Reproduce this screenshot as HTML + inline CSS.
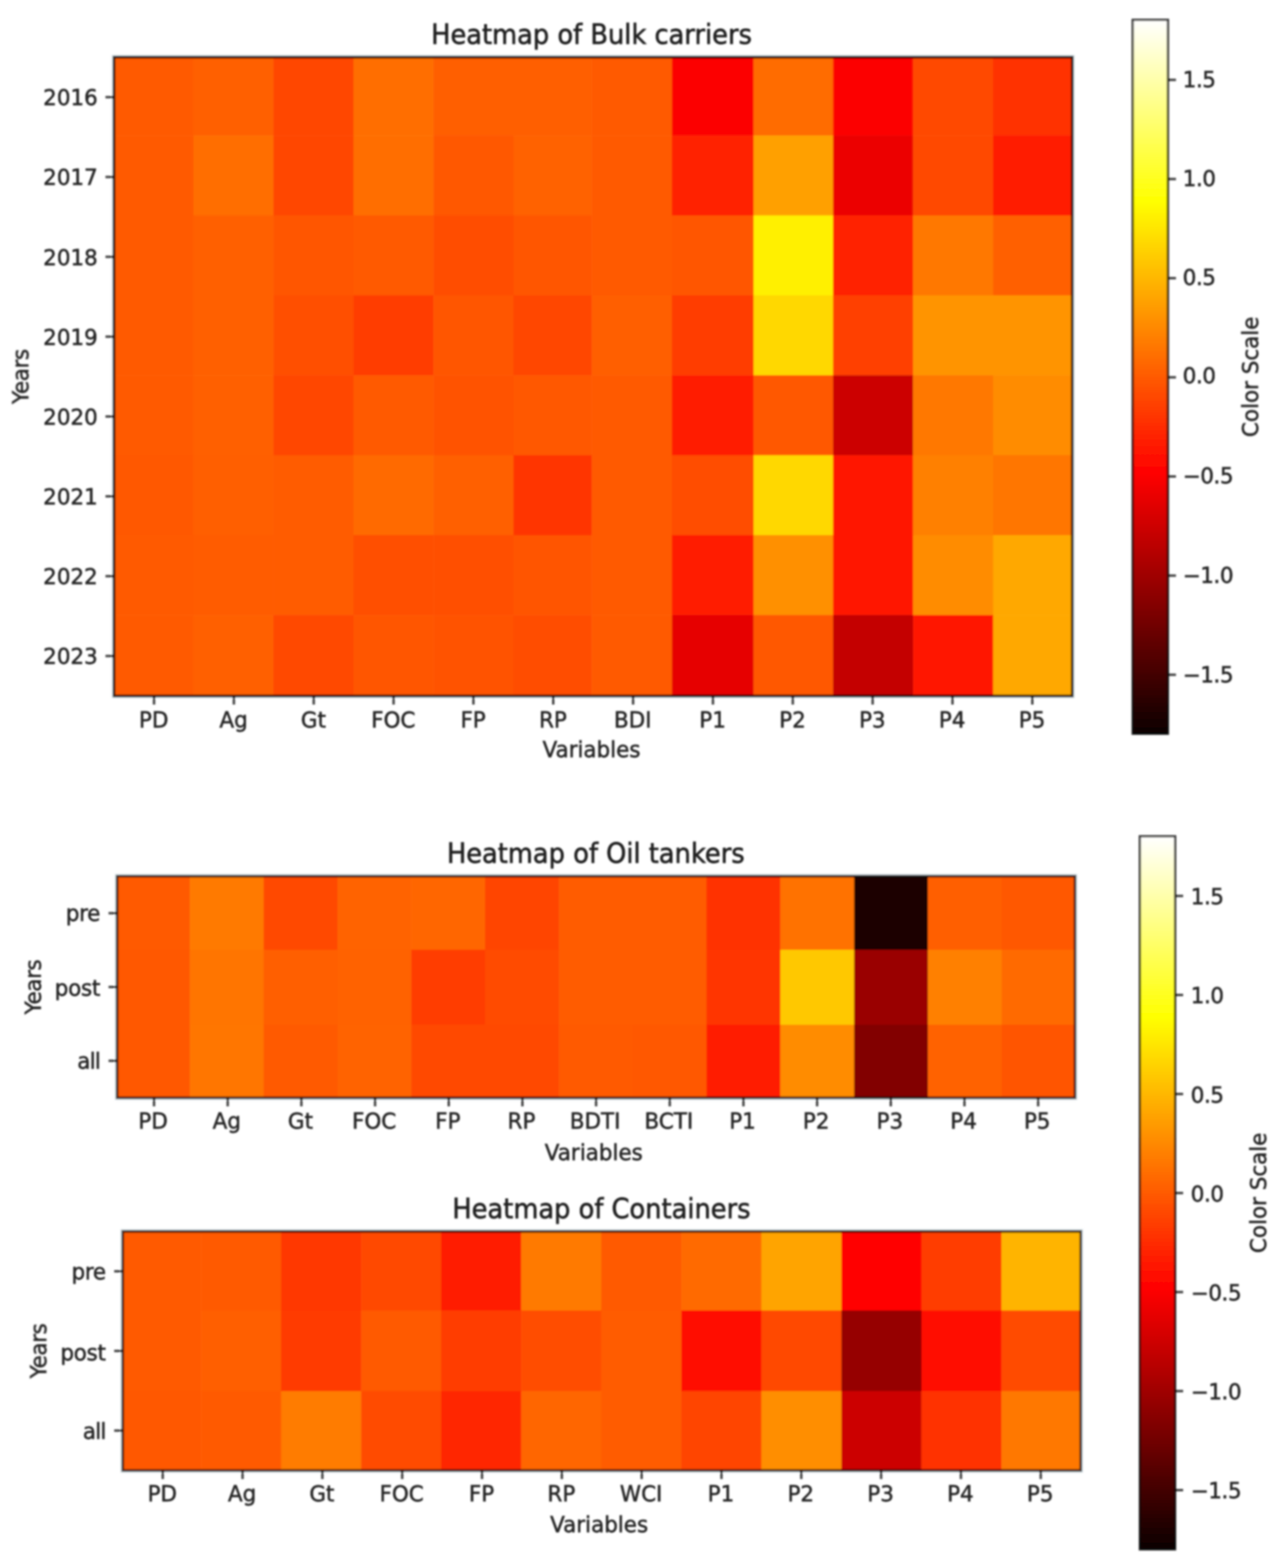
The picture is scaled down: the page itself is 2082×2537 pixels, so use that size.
<!DOCTYPE html>
<html lang="en">
<head>
<meta charset="utf-8">
<title>Heatmaps</title>
<style>
html,body{margin:0;padding:0;background:#fff;}
body{width:2082px;height:2537px;overflow:hidden;}
svg{display:block;}
.t{font-family:"DejaVu Sans","Liberation Sans",sans-serif;font-size:34.70px;fill:#000;stroke:#000;stroke-width:0.8px;opacity:0.86;}
.tt{font-family:"DejaVu Sans","Liberation Sans",sans-serif;font-size:41.60px;fill:#000;stroke:#000;stroke-width:0.9px;opacity:0.88;}
.ln{stroke:#000;stroke-width:4px;fill:none;opacity:0.72;}
.box{stroke:#000;stroke-width:4.40;fill:none;opacity:0.76;}
.halo{stroke:#c3d3dc;stroke-width:8px;fill:none;opacity:0.5;}
.cbox{stroke:#000;stroke-width:3.7px;fill:none;opacity:0.82;}
</style>
</head>
<body>
<svg width="2082" height="2537" viewBox="0 0 2082 2537" role="img" aria-label="Heatmaps of Bulk carriers, Oil tankers and Containers">
<defs>
<linearGradient id="hot" x1="0" y1="0" x2="0" y2="1"><stop offset="0.000000" stop-color="#ffffff"/><stop offset="0.253968" stop-color="#ffff00"/><stop offset="0.634921" stop-color="#ff0000"/><stop offset="1.000000" stop-color="#0b0000"/></linearGradient>
<filter id="soft" x="-2%" y="-2%" width="104%" height="104%"><feGaussianBlur stdDeviation="1.60"/></filter>
</defs>
<rect x="0" y="0" width="2082" height="2537" fill="#fff"/>
<g filter="url(#soft)">
<rect x="184.60" y="92.60" width="1550.00" height="1033.40" class="halo"/>
<clipPath id="clip-carriers"><rect x="184.60" y="92.60" width="1550.00" height="1033.40"/></clipPath>
<g clip-path="url(#clip-carriers)">
<rect x="182.30" y="90.30" width="131.17" height="129.52" fill="#FF5A00"/>
<rect x="312.87" y="90.30" width="130.07" height="129.52" fill="#FF6000"/>
<rect x="442.34" y="90.30" width="130.07" height="129.52" fill="#FF4600"/>
<rect x="571.81" y="90.30" width="130.07" height="129.52" fill="#FF6E00"/>
<rect x="701.28" y="90.30" width="130.07" height="129.52" fill="#FF5E00"/>
<rect x="830.75" y="90.30" width="127.07" height="129.52" fill="#FF5E00"/>
<rect x="957.22" y="90.30" width="130.27" height="129.52" fill="#FF5A00"/>
<rect x="1086.89" y="90.30" width="132.87" height="129.52" fill="#FC0000"/>
<rect x="1219.16" y="90.30" width="129.07" height="129.52" fill="#FF6C00"/>
<rect x="1347.63" y="90.30" width="130.07" height="129.52" fill="#FC0000"/>
<rect x="1477.10" y="90.30" width="130.07" height="129.52" fill="#FF4800"/>
<rect x="1606.57" y="90.30" width="130.33" height="129.52" fill="#FF3000"/>
<rect x="182.30" y="219.22" width="131.17" height="129.92" fill="#FF5A00"/>
<rect x="312.87" y="219.22" width="130.07" height="129.92" fill="#FF6E00"/>
<rect x="442.34" y="219.22" width="130.07" height="129.92" fill="#FF4600"/>
<rect x="571.81" y="219.22" width="130.07" height="129.92" fill="#FF6E00"/>
<rect x="701.28" y="219.22" width="130.07" height="129.92" fill="#FF5800"/>
<rect x="830.75" y="219.22" width="127.07" height="129.92" fill="#FF6200"/>
<rect x="957.22" y="219.22" width="130.27" height="129.92" fill="#FF5A00"/>
<rect x="1086.89" y="219.22" width="132.87" height="129.92" fill="#FF2000"/>
<rect x="1219.16" y="219.22" width="129.07" height="129.92" fill="#FFA000"/>
<rect x="1347.63" y="219.22" width="130.07" height="129.92" fill="#EC0000"/>
<rect x="1477.10" y="219.22" width="130.07" height="129.92" fill="#FF4800"/>
<rect x="1606.57" y="219.22" width="130.33" height="129.92" fill="#FF1C00"/>
<rect x="182.30" y="348.54" width="131.17" height="129.92" fill="#FF5A00"/>
<rect x="312.87" y="348.54" width="130.07" height="129.92" fill="#FF6000"/>
<rect x="442.34" y="348.54" width="130.07" height="129.92" fill="#FF5600"/>
<rect x="571.81" y="348.54" width="130.07" height="129.92" fill="#FF5A00"/>
<rect x="701.28" y="348.54" width="130.07" height="129.92" fill="#FF4E00"/>
<rect x="830.75" y="348.54" width="127.07" height="129.92" fill="#FF5600"/>
<rect x="957.22" y="348.54" width="130.27" height="129.92" fill="#FF5A00"/>
<rect x="1086.89" y="348.54" width="132.87" height="129.92" fill="#FF5600"/>
<rect x="1219.16" y="348.54" width="129.07" height="129.92" fill="#FFF000"/>
<rect x="1347.63" y="348.54" width="130.07" height="129.92" fill="#FF2400"/>
<rect x="1477.10" y="348.54" width="130.07" height="129.92" fill="#FF7800"/>
<rect x="1606.57" y="348.54" width="130.33" height="129.92" fill="#FF6000"/>
<rect x="182.30" y="477.86" width="131.17" height="129.92" fill="#FF5A00"/>
<rect x="312.87" y="477.86" width="130.07" height="129.92" fill="#FF6000"/>
<rect x="442.34" y="477.86" width="130.07" height="129.92" fill="#FF5000"/>
<rect x="571.81" y="477.86" width="130.07" height="129.92" fill="#FF3E00"/>
<rect x="701.28" y="477.86" width="130.07" height="129.92" fill="#FF5600"/>
<rect x="830.75" y="477.86" width="127.07" height="129.92" fill="#FF4600"/>
<rect x="957.22" y="477.86" width="130.27" height="129.92" fill="#FF5E00"/>
<rect x="1086.89" y="477.86" width="132.87" height="129.92" fill="#FF3E00"/>
<rect x="1219.16" y="477.86" width="129.07" height="129.92" fill="#FFD800"/>
<rect x="1347.63" y="477.86" width="130.07" height="129.92" fill="#FF4000"/>
<rect x="1477.10" y="477.86" width="130.07" height="129.92" fill="#FF9400"/>
<rect x="1606.57" y="477.86" width="130.33" height="129.92" fill="#FF9400"/>
<rect x="182.30" y="607.18" width="131.17" height="129.92" fill="#FF5A00"/>
<rect x="312.87" y="607.18" width="130.07" height="129.92" fill="#FF6000"/>
<rect x="442.34" y="607.18" width="130.07" height="129.92" fill="#FF4600"/>
<rect x="571.81" y="607.18" width="130.07" height="129.92" fill="#FF5A00"/>
<rect x="701.28" y="607.18" width="130.07" height="129.92" fill="#FF5200"/>
<rect x="830.75" y="607.18" width="127.07" height="129.92" fill="#FF5800"/>
<rect x="957.22" y="607.18" width="130.27" height="129.92" fill="#FF5A00"/>
<rect x="1086.89" y="607.18" width="132.87" height="129.92" fill="#FF1C00"/>
<rect x="1219.16" y="607.18" width="129.07" height="129.92" fill="#FF5800"/>
<rect x="1347.63" y="607.18" width="130.07" height="129.92" fill="#CC0000"/>
<rect x="1477.10" y="607.18" width="130.07" height="129.92" fill="#FF7800"/>
<rect x="1606.57" y="607.18" width="130.33" height="129.92" fill="#FF8C00"/>
<rect x="182.30" y="736.50" width="131.17" height="129.92" fill="#FF5800"/>
<rect x="312.87" y="736.50" width="130.07" height="129.92" fill="#FF5E00"/>
<rect x="442.34" y="736.50" width="130.07" height="129.92" fill="#FF5C00"/>
<rect x="571.81" y="736.50" width="130.07" height="129.92" fill="#FF6A00"/>
<rect x="701.28" y="736.50" width="130.07" height="129.92" fill="#FF6000"/>
<rect x="830.75" y="736.50" width="127.07" height="129.92" fill="#FF3400"/>
<rect x="957.22" y="736.50" width="130.27" height="129.92" fill="#FF5A00"/>
<rect x="1086.89" y="736.50" width="132.87" height="129.92" fill="#FF4E00"/>
<rect x="1219.16" y="736.50" width="129.07" height="129.92" fill="#FFD800"/>
<rect x="1347.63" y="736.50" width="130.07" height="129.92" fill="#FF1400"/>
<rect x="1477.10" y="736.50" width="130.07" height="129.92" fill="#FF8000"/>
<rect x="1606.57" y="736.50" width="130.33" height="129.92" fill="#FF7600"/>
<rect x="182.30" y="865.82" width="131.17" height="129.92" fill="#FF5A00"/>
<rect x="312.87" y="865.82" width="130.07" height="129.92" fill="#FF5C00"/>
<rect x="442.34" y="865.82" width="130.07" height="129.92" fill="#FF5C00"/>
<rect x="571.81" y="865.82" width="130.07" height="129.92" fill="#FF5000"/>
<rect x="701.28" y="865.82" width="130.07" height="129.92" fill="#FF5000"/>
<rect x="830.75" y="865.82" width="127.07" height="129.92" fill="#FF5400"/>
<rect x="957.22" y="865.82" width="130.27" height="129.92" fill="#FF5A00"/>
<rect x="1086.89" y="865.82" width="132.87" height="129.92" fill="#FF1C00"/>
<rect x="1219.16" y="865.82" width="129.07" height="129.92" fill="#FF9000"/>
<rect x="1347.63" y="865.82" width="130.07" height="129.92" fill="#FF1400"/>
<rect x="1477.10" y="865.82" width="130.07" height="129.92" fill="#FF8C00"/>
<rect x="1606.57" y="865.82" width="130.33" height="129.92" fill="#FFA800"/>
<rect x="182.30" y="995.14" width="131.17" height="133.16" fill="#FF5A00"/>
<rect x="312.87" y="995.14" width="130.07" height="133.16" fill="#FF6000"/>
<rect x="442.34" y="995.14" width="130.07" height="133.16" fill="#FF4800"/>
<rect x="571.81" y="995.14" width="130.07" height="133.16" fill="#FF5600"/>
<rect x="701.28" y="995.14" width="130.07" height="133.16" fill="#FF5200"/>
<rect x="830.75" y="995.14" width="127.07" height="133.16" fill="#FF4E00"/>
<rect x="957.22" y="995.14" width="130.27" height="133.16" fill="#FF5A00"/>
<rect x="1086.89" y="995.14" width="132.87" height="133.16" fill="#E60000"/>
<rect x="1219.16" y="995.14" width="129.07" height="133.16" fill="#FF5800"/>
<rect x="1347.63" y="995.14" width="130.07" height="133.16" fill="#C40000"/>
<rect x="1477.10" y="995.14" width="130.07" height="133.16" fill="#FF1400"/>
<rect x="1606.57" y="995.14" width="130.33" height="133.16" fill="#FFA800"/>
</g>
<line x1="249.18" y1="1126.00" x2="249.18" y2="1140.00" class="ln"/>
<text x="248.68" y="1176.50" class="t" text-anchor="middle">PD</text>
<line x1="378.35" y1="1126.00" x2="378.35" y2="1140.00" class="ln"/>
<text x="377.85" y="1176.50" class="t" text-anchor="middle">Ag</text>
<line x1="507.52" y1="1126.00" x2="507.52" y2="1140.00" class="ln"/>
<text x="507.02" y="1176.50" class="t" text-anchor="middle">Gt</text>
<line x1="636.68" y1="1126.00" x2="636.68" y2="1140.00" class="ln"/>
<text x="636.18" y="1176.50" class="t" text-anchor="middle">FOC</text>
<line x1="765.85" y1="1126.00" x2="765.85" y2="1140.00" class="ln"/>
<text x="765.35" y="1176.50" class="t" text-anchor="middle">FP</text>
<line x1="895.02" y1="1126.00" x2="895.02" y2="1140.00" class="ln"/>
<text x="894.52" y="1176.50" class="t" text-anchor="middle">RP</text>
<line x1="1024.18" y1="1126.00" x2="1024.18" y2="1140.00" class="ln"/>
<text x="1023.68" y="1176.50" class="t" text-anchor="middle">BDI</text>
<line x1="1153.35" y1="1126.00" x2="1153.35" y2="1140.00" class="ln"/>
<text x="1152.85" y="1176.50" class="t" text-anchor="middle">P1</text>
<line x1="1282.52" y1="1126.00" x2="1282.52" y2="1140.00" class="ln"/>
<text x="1282.02" y="1176.50" class="t" text-anchor="middle">P2</text>
<line x1="1411.68" y1="1126.00" x2="1411.68" y2="1140.00" class="ln"/>
<text x="1411.18" y="1176.50" class="t" text-anchor="middle">P3</text>
<line x1="1540.85" y1="1126.00" x2="1540.85" y2="1140.00" class="ln"/>
<text x="1540.35" y="1176.50" class="t" text-anchor="middle">P4</text>
<line x1="1670.02" y1="1126.00" x2="1670.02" y2="1140.00" class="ln"/>
<text x="1669.52" y="1176.50" class="t" text-anchor="middle">P5</text>
<line x1="170.60" y1="157.19" x2="184.60" y2="157.19" class="ln"/>
<text x="158.10" y="170.19" class="t" text-anchor="end" style="letter-spacing:0.0px">2016</text>
<line x1="170.60" y1="286.36" x2="184.60" y2="286.36" class="ln"/>
<text x="158.10" y="299.36" class="t" text-anchor="end" style="letter-spacing:0.0px">2017</text>
<line x1="170.60" y1="415.54" x2="184.60" y2="415.54" class="ln"/>
<text x="158.10" y="428.54" class="t" text-anchor="end" style="letter-spacing:0.0px">2018</text>
<line x1="170.60" y1="544.71" x2="184.60" y2="544.71" class="ln"/>
<text x="158.10" y="557.71" class="t" text-anchor="end" style="letter-spacing:0.0px">2019</text>
<line x1="170.60" y1="673.89" x2="184.60" y2="673.89" class="ln"/>
<text x="158.10" y="686.89" class="t" text-anchor="end" style="letter-spacing:0.0px">2020</text>
<line x1="170.60" y1="803.06" x2="184.60" y2="803.06" class="ln"/>
<text x="158.10" y="816.06" class="t" text-anchor="end" style="letter-spacing:0.0px">2021</text>
<line x1="170.60" y1="932.24" x2="184.60" y2="932.24" class="ln"/>
<text x="158.10" y="945.24" class="t" text-anchor="end" style="letter-spacing:0.0px">2022</text>
<line x1="170.60" y1="1061.41" x2="184.60" y2="1061.41" class="ln"/>
<text x="158.10" y="1074.41" class="t" text-anchor="end" style="letter-spacing:0.0px">2023</text>
<rect x="184.60" y="92.60" width="1550.00" height="1033.40" class="box" style="stroke-width:4.4px;opacity:0.76"/>
<text transform="translate(956.90 70.60) scale(1 1.080)" class="tt" text-anchor="middle">Heatmap of Bulk carriers</text>
<text x="956.90" y="1225.00" class="t" text-anchor="middle">Variables</text>
<text transform="translate(45.70 609.30) rotate(-90)" class="t" text-anchor="middle" style="letter-spacing:-0.6px">Years</text>
<rect x="1832.40" y="32.20" width="57.00" height="1155.00" fill="url(#hot)"/>
<rect x="1832.40" y="32.20" width="57.00" height="1155.00" class="cbox"/>
<line x1="1889.40" y1="129.25" x2="1902.40" y2="129.25" class="ln"/>
<text x="1913.20" y="141.05" class="t" style="letter-spacing:-0.6px">1.5</text>
<line x1="1889.40" y1="289.67" x2="1902.40" y2="289.67" class="ln"/>
<text x="1913.20" y="301.47" class="t" style="letter-spacing:-0.6px">1.0</text>
<line x1="1889.40" y1="450.08" x2="1902.40" y2="450.08" class="ln"/>
<text x="1913.20" y="460.68" class="t" style="letter-spacing:-0.6px">0.5</text>
<line x1="1889.40" y1="610.50" x2="1902.40" y2="610.50" class="ln"/>
<text x="1913.20" y="620.30" class="t" style="letter-spacing:-0.6px">0.0</text>
<line x1="1889.40" y1="770.92" x2="1902.40" y2="770.92" class="ln"/>
<text x="1913.20" y="781.92" class="t" style="letter-spacing:-0.6px">−0.5</text>
<line x1="1889.40" y1="931.33" x2="1902.40" y2="931.33" class="ln"/>
<text x="1913.20" y="943.13" class="t" style="letter-spacing:-0.6px">−1.0</text>
<line x1="1889.40" y1="1091.75" x2="1902.40" y2="1091.75" class="ln"/>
<text x="1913.20" y="1103.55" class="t" style="letter-spacing:-0.6px">−1.5</text>
<text transform="translate(2035.00 609.70) rotate(-90)" class="t" text-anchor="middle">Color Scale</text>
<rect x="189.60" y="1417.80" width="1549.40" height="358.30" class="halo"/>
<clipPath id="clip-tankers"><rect x="189.60" y="1417.80" width="1549.40" height="358.30"/></clipPath>
<g clip-path="url(#clip-tankers)">
<rect x="187.30" y="1415.50" width="120.40" height="121.80" fill="#FF5A00"/>
<rect x="307.10" y="1415.50" width="120.00" height="121.80" fill="#FF7A00"/>
<rect x="426.50" y="1415.50" width="120.00" height="121.80" fill="#FF4A00"/>
<rect x="545.90" y="1415.50" width="120.00" height="121.80" fill="#FF6400"/>
<rect x="665.30" y="1415.50" width="120.00" height="121.80" fill="#FF6600"/>
<rect x="784.70" y="1415.50" width="120.00" height="121.80" fill="#FF4400"/>
<rect x="904.10" y="1415.50" width="120.00" height="121.80" fill="#FF5C00"/>
<rect x="1023.50" y="1415.50" width="120.00" height="121.80" fill="#FF5C00"/>
<rect x="1142.90" y="1415.50" width="120.00" height="121.80" fill="#FF3000"/>
<rect x="1262.30" y="1415.50" width="120.00" height="121.80" fill="#FF7200"/>
<rect x="1381.70" y="1415.50" width="120.00" height="121.80" fill="#1E0000"/>
<rect x="1501.10" y="1415.50" width="120.00" height="121.80" fill="#FF5E00"/>
<rect x="1620.50" y="1415.50" width="120.80" height="121.80" fill="#FF5800"/>
<rect x="187.30" y="1536.70" width="120.40" height="121.90" fill="#FF5800"/>
<rect x="307.10" y="1536.70" width="120.00" height="121.90" fill="#FF7400"/>
<rect x="426.50" y="1536.70" width="120.00" height="121.90" fill="#FF5E00"/>
<rect x="545.90" y="1536.70" width="120.00" height="121.90" fill="#FF6200"/>
<rect x="665.30" y="1536.70" width="120.00" height="121.90" fill="#FF3C00"/>
<rect x="784.70" y="1536.70" width="120.00" height="121.90" fill="#FF4C00"/>
<rect x="904.10" y="1536.70" width="120.00" height="121.90" fill="#FF5C00"/>
<rect x="1023.50" y="1536.70" width="120.00" height="121.90" fill="#FF5C00"/>
<rect x="1142.90" y="1536.70" width="120.00" height="121.90" fill="#FF3400"/>
<rect x="1262.30" y="1536.70" width="120.00" height="121.90" fill="#FFC800"/>
<rect x="1381.70" y="1536.70" width="120.00" height="121.90" fill="#9A0000"/>
<rect x="1501.10" y="1536.70" width="120.00" height="121.90" fill="#FF8000"/>
<rect x="1620.50" y="1536.70" width="120.80" height="121.90" fill="#FF6A00"/>
<rect x="187.30" y="1658.00" width="120.40" height="120.40" fill="#FF5800"/>
<rect x="307.10" y="1658.00" width="120.00" height="120.40" fill="#FF7600"/>
<rect x="426.50" y="1658.00" width="120.00" height="120.40" fill="#FF5A00"/>
<rect x="545.90" y="1658.00" width="120.00" height="120.40" fill="#FF6400"/>
<rect x="665.30" y="1658.00" width="120.00" height="120.40" fill="#FF4800"/>
<rect x="784.70" y="1658.00" width="120.00" height="120.40" fill="#FF4800"/>
<rect x="904.10" y="1658.00" width="120.00" height="120.40" fill="#FF5A00"/>
<rect x="1023.50" y="1658.00" width="120.00" height="120.40" fill="#FF5800"/>
<rect x="1142.90" y="1658.00" width="120.00" height="120.40" fill="#FF1C00"/>
<rect x="1262.30" y="1658.00" width="120.00" height="120.40" fill="#FF8C00"/>
<rect x="1381.70" y="1658.00" width="120.00" height="120.40" fill="#820000"/>
<rect x="1501.10" y="1658.00" width="120.00" height="120.40" fill="#FF6200"/>
<rect x="1620.50" y="1658.00" width="120.80" height="120.40" fill="#FF5400"/>
</g>
<line x1="249.19" y1="1776.10" x2="249.19" y2="1790.10" class="ln"/>
<text x="247.69" y="1825.70" class="t" text-anchor="middle">PD</text>
<line x1="368.38" y1="1776.10" x2="368.38" y2="1790.10" class="ln"/>
<text x="366.88" y="1825.70" class="t" text-anchor="middle">Ag</text>
<line x1="487.56" y1="1776.10" x2="487.56" y2="1790.10" class="ln"/>
<text x="486.06" y="1825.70" class="t" text-anchor="middle">Gt</text>
<line x1="606.75" y1="1776.10" x2="606.75" y2="1790.10" class="ln"/>
<text x="605.25" y="1825.70" class="t" text-anchor="middle">FOC</text>
<line x1="725.93" y1="1776.10" x2="725.93" y2="1790.10" class="ln"/>
<text x="724.43" y="1825.70" class="t" text-anchor="middle">FP</text>
<line x1="845.12" y1="1776.10" x2="845.12" y2="1790.10" class="ln"/>
<text x="843.62" y="1825.70" class="t" text-anchor="middle">RP</text>
<line x1="964.30" y1="1776.10" x2="964.30" y2="1790.10" class="ln"/>
<text x="962.80" y="1825.70" class="t" text-anchor="middle">BDTI</text>
<line x1="1083.48" y1="1776.10" x2="1083.48" y2="1790.10" class="ln"/>
<text x="1081.98" y="1825.70" class="t" text-anchor="middle">BCTI</text>
<line x1="1202.67" y1="1776.10" x2="1202.67" y2="1790.10" class="ln"/>
<text x="1201.17" y="1825.70" class="t" text-anchor="middle">P1</text>
<line x1="1321.85" y1="1776.10" x2="1321.85" y2="1790.10" class="ln"/>
<text x="1320.35" y="1825.70" class="t" text-anchor="middle">P2</text>
<line x1="1441.04" y1="1776.10" x2="1441.04" y2="1790.10" class="ln"/>
<text x="1439.54" y="1825.70" class="t" text-anchor="middle">P3</text>
<line x1="1560.22" y1="1776.10" x2="1560.22" y2="1790.10" class="ln"/>
<text x="1558.72" y="1825.70" class="t" text-anchor="middle">P4</text>
<line x1="1679.41" y1="1776.10" x2="1679.41" y2="1790.10" class="ln"/>
<text x="1677.91" y="1825.70" class="t" text-anchor="middle">P5</text>
<line x1="175.60" y1="1477.52" x2="189.60" y2="1477.52" class="ln"/>
<text x="161.90" y="1489.52" class="t" text-anchor="end" style="letter-spacing:-0.5px">pre</text>
<line x1="175.60" y1="1596.95" x2="189.60" y2="1596.95" class="ln"/>
<text x="161.90" y="1611.25" class="t" text-anchor="end" style="letter-spacing:-0.4px">post</text>
<line x1="175.60" y1="1716.38" x2="189.60" y2="1716.38" class="ln"/>
<text x="161.90" y="1728.98" class="t" text-anchor="end" style="letter-spacing:-1.2px">all</text>
<rect x="189.60" y="1417.80" width="1549.40" height="358.30" class="box" style="stroke-width:4.4px;opacity:0.68"/>
<text transform="translate(963.80 1395.80) scale(1 1.080)" class="tt" text-anchor="middle">Heatmap of Oil tankers</text>
<text x="960.60" y="1876.60" class="t" text-anchor="middle">Variables</text>
<text transform="translate(66.00 1596.95) rotate(-90)" class="t" text-anchor="middle" style="letter-spacing:-0.6px">Years</text>
<rect x="198.70" y="1992.50" width="1549.50" height="386.60" class="halo"/>
<clipPath id="clip-containers"><rect x="198.70" y="1992.50" width="1549.50" height="386.60"/></clipPath>
<g clip-path="url(#clip-containers)">
<rect x="196.40" y="1990.20" width="129.39" height="130.80" fill="#FF5A00"/>
<rect x="325.19" y="1990.20" width="130.09" height="130.80" fill="#FF5A00"/>
<rect x="454.68" y="1990.20" width="130.09" height="130.80" fill="#FF3800"/>
<rect x="584.17" y="1990.20" width="130.09" height="130.80" fill="#FF4A00"/>
<rect x="713.66" y="1990.20" width="130.09" height="130.80" fill="#FF1C00"/>
<rect x="843.15" y="1990.20" width="130.09" height="130.80" fill="#FF7A00"/>
<rect x="972.64" y="1990.20" width="130.09" height="130.80" fill="#FF5A00"/>
<rect x="1102.13" y="1990.20" width="130.09" height="130.80" fill="#FF6A00"/>
<rect x="1231.62" y="1990.20" width="130.09" height="130.80" fill="#FFA400"/>
<rect x="1361.11" y="1990.20" width="130.09" height="130.80" fill="#FF0600"/>
<rect x="1490.60" y="1990.20" width="130.09" height="130.80" fill="#FF3C00"/>
<rect x="1620.09" y="1990.20" width="130.41" height="130.80" fill="#FFB400"/>
<rect x="196.40" y="2120.40" width="129.39" height="130.90" fill="#FF5A00"/>
<rect x="325.19" y="2120.40" width="130.09" height="130.90" fill="#FF5E00"/>
<rect x="454.68" y="2120.40" width="130.09" height="130.90" fill="#FF3A00"/>
<rect x="584.17" y="2120.40" width="130.09" height="130.90" fill="#FF5A00"/>
<rect x="713.66" y="2120.40" width="130.09" height="130.90" fill="#FF3E00"/>
<rect x="843.15" y="2120.40" width="130.09" height="130.90" fill="#FF4E00"/>
<rect x="972.64" y="2120.40" width="130.09" height="130.90" fill="#FF5C00"/>
<rect x="1102.13" y="2120.40" width="130.09" height="130.90" fill="#FF0C00"/>
<rect x="1231.62" y="2120.40" width="130.09" height="130.90" fill="#FF4800"/>
<rect x="1361.11" y="2120.40" width="130.09" height="130.90" fill="#960000"/>
<rect x="1490.60" y="2120.40" width="130.09" height="130.90" fill="#FF0C00"/>
<rect x="1620.09" y="2120.40" width="130.41" height="130.90" fill="#FF4C00"/>
<rect x="196.40" y="2250.70" width="129.39" height="130.70" fill="#FF5800"/>
<rect x="325.19" y="2250.70" width="130.09" height="130.70" fill="#FF5A00"/>
<rect x="454.68" y="2250.70" width="130.09" height="130.70" fill="#FF7C00"/>
<rect x="584.17" y="2250.70" width="130.09" height="130.70" fill="#FF4C00"/>
<rect x="713.66" y="2250.70" width="130.09" height="130.70" fill="#FF2800"/>
<rect x="843.15" y="2250.70" width="130.09" height="130.70" fill="#FF6600"/>
<rect x="972.64" y="2250.70" width="130.09" height="130.70" fill="#FF5C00"/>
<rect x="1102.13" y="2250.70" width="130.09" height="130.70" fill="#FF4400"/>
<rect x="1231.62" y="2250.70" width="130.09" height="130.70" fill="#FF8E00"/>
<rect x="1361.11" y="2250.70" width="130.09" height="130.70" fill="#CC0000"/>
<rect x="1490.60" y="2250.70" width="130.09" height="130.70" fill="#FF3000"/>
<rect x="1620.09" y="2250.70" width="130.41" height="130.70" fill="#FF7800"/>
</g>
<line x1="263.26" y1="2379.10" x2="263.26" y2="2393.10" class="ln"/>
<text x="262.46" y="2428.70" class="t" text-anchor="middle">PD</text>
<line x1="392.39" y1="2379.10" x2="392.39" y2="2393.10" class="ln"/>
<text x="391.59" y="2428.70" class="t" text-anchor="middle">Ag</text>
<line x1="521.51" y1="2379.10" x2="521.51" y2="2393.10" class="ln"/>
<text x="520.71" y="2428.70" class="t" text-anchor="middle">Gt</text>
<line x1="650.64" y1="2379.10" x2="650.64" y2="2393.10" class="ln"/>
<text x="649.84" y="2428.70" class="t" text-anchor="middle">FOC</text>
<line x1="779.76" y1="2379.10" x2="779.76" y2="2393.10" class="ln"/>
<text x="778.96" y="2428.70" class="t" text-anchor="middle">FP</text>
<line x1="908.89" y1="2379.10" x2="908.89" y2="2393.10" class="ln"/>
<text x="908.09" y="2428.70" class="t" text-anchor="middle">RP</text>
<line x1="1038.01" y1="2379.10" x2="1038.01" y2="2393.10" class="ln"/>
<text x="1037.21" y="2428.70" class="t" text-anchor="middle">WCI</text>
<line x1="1167.14" y1="2379.10" x2="1167.14" y2="2393.10" class="ln"/>
<text x="1166.34" y="2428.70" class="t" text-anchor="middle">P1</text>
<line x1="1296.26" y1="2379.10" x2="1296.26" y2="2393.10" class="ln"/>
<text x="1295.46" y="2428.70" class="t" text-anchor="middle">P2</text>
<line x1="1425.39" y1="2379.10" x2="1425.39" y2="2393.10" class="ln"/>
<text x="1424.59" y="2428.70" class="t" text-anchor="middle">P3</text>
<line x1="1554.51" y1="2379.10" x2="1554.51" y2="2393.10" class="ln"/>
<text x="1553.71" y="2428.70" class="t" text-anchor="middle">P4</text>
<line x1="1683.64" y1="2379.10" x2="1683.64" y2="2393.10" class="ln"/>
<text x="1682.84" y="2428.70" class="t" text-anchor="middle">P5</text>
<line x1="184.70" y1="2056.93" x2="198.70" y2="2056.93" class="ln"/>
<text x="171.00" y="2070.03" class="t" text-anchor="end" style="letter-spacing:-0.5px">pre</text>
<line x1="184.70" y1="2185.80" x2="198.70" y2="2185.80" class="ln"/>
<text x="171.00" y="2200.80" class="t" text-anchor="end" style="letter-spacing:-0.4px">post</text>
<line x1="184.70" y1="2314.67" x2="198.70" y2="2314.67" class="ln"/>
<text x="171.00" y="2327.77" class="t" text-anchor="end" style="letter-spacing:-1.2px">all</text>
<rect x="198.70" y="1992.50" width="1549.50" height="386.60" class="box" style="stroke-width:4.4px;opacity:0.68"/>
<text transform="translate(972.95 1971.00) scale(1 1.080)" class="tt" text-anchor="middle">Heatmap of Containers</text>
<text x="969.25" y="2479.00" class="t" text-anchor="middle">Variables</text>
<text transform="translate(74.70 2185.80) rotate(-90)" class="t" text-anchor="middle" style="letter-spacing:-0.6px">Years</text>
<rect x="1844.00" y="1353.20" width="57.00" height="1153.60" fill="url(#hot)"/>
<rect x="1844.00" y="1353.20" width="57.00" height="1153.60" class="cbox"/>
<line x1="1901.00" y1="1449.63" x2="1914.00" y2="1449.63" class="ln"/>
<text x="1926.20" y="1463.13" class="t" style="letter-spacing:-0.6px">1.5</text>
<line x1="1901.00" y1="1609.86" x2="1914.00" y2="1609.86" class="ln"/>
<text x="1926.20" y="1623.36" class="t" style="letter-spacing:-0.6px">1.0</text>
<line x1="1901.00" y1="1770.08" x2="1914.00" y2="1770.08" class="ln"/>
<text x="1926.20" y="1783.58" class="t" style="letter-spacing:-0.6px">0.5</text>
<line x1="1901.00" y1="1930.30" x2="1914.00" y2="1930.30" class="ln"/>
<text x="1926.20" y="1943.80" class="t" style="letter-spacing:-0.6px">0.0</text>
<line x1="1901.00" y1="2090.52" x2="1914.00" y2="2090.52" class="ln"/>
<text x="1926.20" y="2104.02" class="t" style="letter-spacing:-0.6px">−0.5</text>
<line x1="1901.00" y1="2250.74" x2="1914.00" y2="2250.74" class="ln"/>
<text x="1926.20" y="2264.24" class="t" style="letter-spacing:-0.6px">−1.0</text>
<line x1="1901.00" y1="2410.97" x2="1914.00" y2="2410.97" class="ln"/>
<text x="1926.20" y="2424.47" class="t" style="letter-spacing:-0.6px">−1.5</text>
<text transform="translate(2048.00 1930.00) rotate(-90)" class="t" text-anchor="middle">Color Scale</text>
</g>
</svg>
</body>
</html>
